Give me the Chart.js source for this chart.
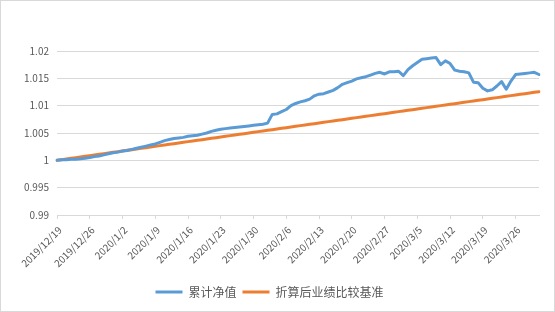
<!DOCTYPE html>
<html>
<head>
<meta charset="utf-8">
<script src="https://cdn.jsdelivr.net/npm/chart.js@4.4.1/dist/chart.umd.min.js"></script>
<style>
  html, body { margin: 0; padding: 0; background: #fff; }
  #wrap { position: relative; width: 555px; height: 312px; }
  #borde { position: absolute; left: 0; top: 0; right: 0; bottom: 0; border: 1px solid #d9d9d9; pointer-events: none; }
</style>
</head>
<body>
<div id="wrap">
  <canvas id="grafico" width="555" height="312"></canvas>
  <div id="borde"></div>
</div>
<script>
// fechas (un dato por día natural)
const fechas = [
  '2019/12/19','2019/12/20','2019/12/21','2019/12/22','2019/12/23','2019/12/24','2019/12/25','2019/12/26','2019/12/27','2019/12/28','2019/12/29','2019/12/30','2019/12/31',
  '2020/1/1','2020/1/2','2020/1/3','2020/1/4','2020/1/5','2020/1/6','2020/1/7','2020/1/8','2020/1/9','2020/1/10','2020/1/11','2020/1/12','2020/1/13','2020/1/14','2020/1/15','2020/1/16',
  '2020/1/17','2020/1/18','2020/1/19','2020/1/20','2020/1/21','2020/1/22','2020/1/23','2020/1/24','2020/1/25','2020/1/26','2020/1/27','2020/1/28','2020/1/29','2020/1/30','2020/1/31',
  '2020/2/1','2020/2/2','2020/2/3','2020/2/4','2020/2/5','2020/2/6','2020/2/7','2020/2/8','2020/2/9','2020/2/10','2020/2/11','2020/2/12','2020/2/13','2020/2/14','2020/2/15',
  '2020/2/16','2020/2/17','2020/2/18','2020/2/19','2020/2/20','2020/2/21','2020/2/22','2020/2/23','2020/2/24','2020/2/25','2020/2/26','2020/2/27','2020/2/28','2020/2/29',
  '2020/3/1','2020/3/2','2020/3/3','2020/3/4','2020/3/5','2020/3/6','2020/3/7','2020/3/8','2020/3/9','2020/3/10','2020/3/11','2020/3/12','2020/3/13','2020/3/14','2020/3/15',
  '2020/3/16','2020/3/17','2020/3/18','2020/3/19','2020/3/20','2020/3/21','2020/3/22','2020/3/23','2020/3/24','2020/3/25','2020/3/26','2020/3/27','2020/3/28','2020/3/29','2020/3/30','2020/3/31'
];

// etiquetas visibles del eje X
const fechasEje = ['2019/12/19','2019/12/26','2020/1/2','2020/1/9','2020/1/16','2020/1/23','2020/1/30','2020/2/6',
  '2020/2/13','2020/2/20','2020/2/27','2020/3/5','2020/3/12','2020/3/19','2020/3/26'];

// 累计净值
const valorNeto = [
  1.0000,1.0001,1.0001,1.0002,1.0002,1.0003,1.0004,1.0005,1.0007,1.0008,1.0010,1.0012,1.0014,
  1.0015,1.0017,1.0018,1.0020,1.0022,1.0024,1.0026,1.0028,1.0030,1.0033,1.0036,1.0038,1.0040,1.0041,1.0042,1.0044,
  1.0045,1.0046,1.0048,1.0050,1.0053,1.0055,1.0057,1.0058,1.0059,1.0060,1.0061,1.0062,1.0063,1.0064,1.0065,
  1.0066,1.0068,1.0084,1.0085,1.0089,1.0093,1.0100,1.0104,1.0107,1.0109,1.0112,1.0118,1.0121,1.0122,1.0125,
  1.0128,1.0133,1.0139,1.0142,1.0145,1.0149,1.0151,1.0153,1.0156,1.0159,1.0161,1.0158,1.0162,1.0162,
  1.0163,1.0155,1.0166,1.0173,1.0179,1.0185,1.0186,1.0187,1.0188,1.0175,1.0182,1.0177,1.0165,1.0163,1.0162,
  1.0160,1.0143,1.0142,1.0132,1.0127,1.0129,1.0136,1.0144,1.0130,1.0145,1.0157,1.0158,1.0159,1.0160,1.0161,1.0157
];

// 折算后业绩比较基准
const referencia = [
  1.00000,1.00012,1.00025,1.00037,1.00049,1.00061,1.00073,1.00086,1.00098,1.00110,1.00122,1.00134,1.00147,
  1.00159,1.00171,1.00183,1.00195,1.00208,1.00220,1.00232,1.00244,1.00256,1.00269,1.00281,1.00293,1.00305,1.00317,1.00330,1.00342,
  1.00354,1.00366,1.00378,1.00391,1.00403,1.00415,1.00427,1.00439,1.00452,1.00464,1.00476,1.00488,1.00500,1.00513,1.00525,
  1.00537,1.00549,1.00561,1.00574,1.00586,1.00598,1.00610,1.00622,1.00635,1.00647,1.00659,1.00671,1.00683,1.00696,1.00708,
  1.00720,1.00732,1.00744,1.00757,1.00769,1.00781,1.00793,1.00805,1.00818,1.00830,1.00842,1.00854,1.00866,1.00879,
  1.00891,1.00903,1.00915,1.00927,1.00940,1.00952,1.00964,1.00976,1.00988,1.01001,1.01013,1.01025,1.01037,1.01049,1.01062,
  1.01074,1.01086,1.01098,1.01110,1.01123,1.01135,1.01147,1.01159,1.01171,1.01184,1.01196,1.01208,1.01220,1.01232,1.01245,1.01255
];

const nombres = ['累计净值', '折算后业绩比较基准'];
const colores = ['#5B9BD5', '#ED7D31'];

const fuente = "'Noto Sans CJK SC', 'Noto Sans', sans-serif";
const gris = '#d9d9d9';
const texto = '#595959';

function crearSerie(nombre, datos, color) {
  return {
    label: nombre,
    data: datos,
    borderColor: color,
    backgroundColor: color,
    borderWidth: 3,
    pointRadius: 0,
    tension: 0,
    borderCapStyle: 'round',
    borderJoinStyle: 'round'
  };
}

new Chart(document.getElementById('grafico'), {
  type: 'line',
  data: {
    labels: fechas,
    datasets: [
      crearSerie(nombres[0], valorNeto, colores[0]),
      crearSerie(nombres[1], referencia, colores[1])
    ]
  },
  options: {
    responsive: false,
    animation: false,
    layout: { padding: { top: 51, right: 16, left: 0, bottom: 4 } },
    plugins: {
      tooltip: { enabled: false },
      legend: {
        position: 'bottom',
        labels: {
          boxWidth: 27,
          boxHeight: 3,
          padding: 6,
          color: texto,
          font: { family: fuente, size: 12 },
          generateLabels: chart => Chart.defaults.plugins.legend.labels.generateLabels(chart)
            .map(l => ({ ...l, lineWidth: 0 }))
        }
      }
    },
    scales: {
      x: {
        offset: false,
        afterFit: s => { s.height = 65; },
        grid: { drawOnChartArea: false, drawTicks: true, tickLength: 4, color: gris },
        border: { color: gris },
        ticks: {
          autoSkip: false,
          maxRotation: 45,
          minRotation: 45,
          labelOffset: 3,
          padding: 5,
          color: texto,
          font: { family: fuente, size: 10 },
          callback: function (v) {
            const f = this.getLabelForValue(v);
            return fechasEje.includes(f) ? f : null;
          }
        }
      },
      y: {
        min: 0.99,
        max: 1.02,
        afterFit: s => { s.width = 57; },
        grid: { color: gris, drawTicks: false },
        border: { display: false },
        ticks: {
          stepSize: 0.005,
          padding: 8,
          color: texto,
          font: { family: fuente, size: 10 },
          callback: v => String(Number(v.toFixed(3)))
        }
      }
    }
  }
});
</script>
</body>
</html>
